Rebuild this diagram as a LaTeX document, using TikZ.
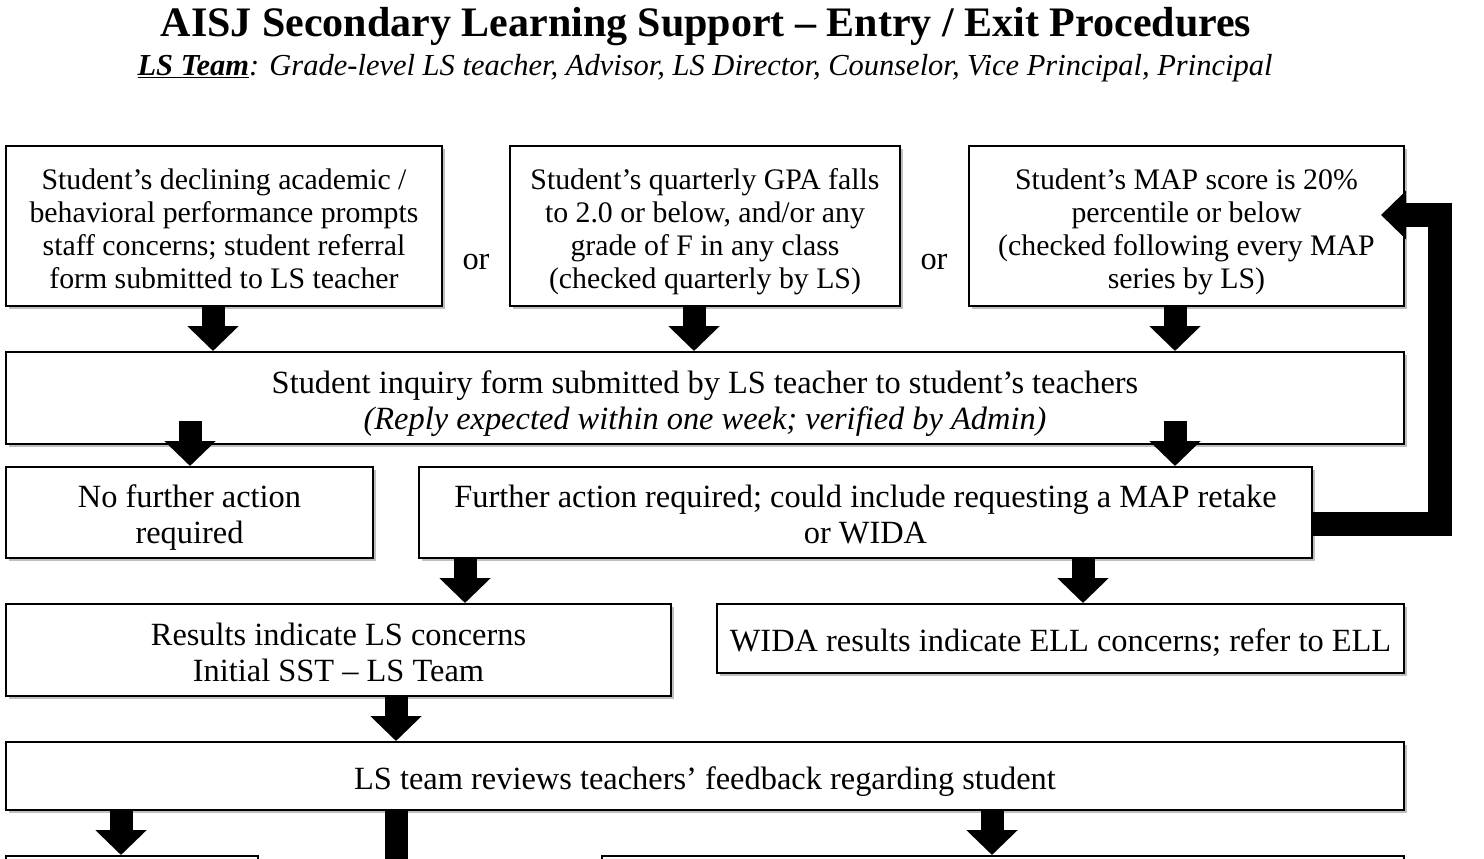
\documentclass[tikz,border=0pt]{standalone}
\usepackage{fontspec}
\setmainfont{Liberation Serif}
\usetikzlibrary{arrows.meta,shadows}

% strut with extra room above the first line, so the text sits a little low
\newcommand{\topstrut}{\rule[-0.3\baselineskip]{0pt}{\dimexpr\baselineskip+12pt\relax}}

\tikzset{
  box/.style={draw, line width=2pt, fill=white, inner sep=0pt, align=center,
    drop shadow={shadow xshift=3pt, shadow yshift=-3pt, opacity=0.25, fill=black}},
  smallbox/.style={box, font=\fontsize{29.8}{33}\selectfont},
  bigbox/.style={box, font=\fontsize{32.4}{36}\selectfont},
  bigarrow/.style={line width=23pt, -{Triangle[width=50pt,length=25pt]}},
}

\begin{document}
\begin{tikzpicture}[x=1pt,y=-1pt]
    \useasboundingbox (0,0) rectangle (1484,859);
    \clip (0,0) rectangle (1484,859);
    % heading
    \node[font=\fontsize{42}{46}\selectfont\bfseries] (title) at (706,27) {AISJ Secondary Learning Support – Entry / Exit Procedures};
    \node[font=\fontsize{30.5}{34}\selectfont\itshape] (team) at (705,68) {\underline{\bfseries LS Team}: Grade-level LS teacher, Advisor, LS Director, Counselor, Vice Principal, Principal};
    % entry conditions
    \node[smallbox,minimum width=436pt,minimum height=160pt] (a1) at (224,226) {\topstrut Student’s declining academic /\\ behavioral performance prompts\\ staff concerns; student referral\\ form submitted to LS teacher\strut};
    \node[smallbox,minimum width=390pt,minimum height=160pt] (a2) at (705,226) {\topstrut Student’s quarterly GPA falls\\ to 2.0 or below, and/or any\\ grade of F in any class\\ (checked quarterly by LS)\strut};
    \node[smallbox,minimum width=435pt,minimum height=160pt] (a3) at (1186.5,226) {\topstrut Student’s MAP score is 20\%\\ percentile or below\\ (checked following every MAP\\ series by LS)\strut};
    \node[font=\fontsize{32.4}{36}\selectfont] (or1) at (476,262) {or};
    \node[font=\fontsize{32.4}{36}\selectfont] (or2) at (934,262) {or};
    % inquiry
    \node[bigbox,minimum width=1398pt,minimum height=92pt] (b) at (705,398) {\topstrut Student inquiry form submitted by LS teacher to student’s teachers\\ \itshape (Reply expected within one week; verified by Admin)\strut};
    \node[bigbox,minimum width=367pt,minimum height=91pt] (c1) at (189.5,512.5) {\topstrut No further action\\ required\strut};
    \node[bigbox,minimum width=893pt,minimum height=91pt] (c2) at (865.5,512.5) {\topstrut Further action required; could include requesting a MAP retake\\ or WIDA\strut};
    \node[bigbox,minimum width=665pt,minimum height=92pt] (d1) at (338.5,650) {\topstrut Results indicate LS concerns\\ Initial SST – LS Team\strut};
    \node[bigbox,minimum width=687pt,minimum height=69pt] (d2) at (1060.5,638.5) {\topstrut WIDA results indicate ELL concerns; refer to ELL\strut};
    \node[bigbox,minimum width=1398pt,minimum height=68pt] (e) at (705,776) {\topstrut LS team reviews teachers’ feedback regarding student\strut};
    % next row, cut off by the page
    \node[box,minimum width=252pt,minimum height=94pt] (f1) at (132,903) {};
    \node[box,minimum width=802pt,minimum height=94pt] (f2) at (1003,903) {};
    % arrows
    \draw[bigarrow] (a1.south -| 213,0) -- (b.north -| 213,0);
    \draw[bigarrow] (a2.south -| 694,0) -- (b.north -| 694,0);
    \draw[bigarrow] (a3.south -| 1175,0) -- (b.north -| 1175,0);
    \draw[bigarrow] ([yshift=24pt]b.south -| 190,0) -- (c1.north -| 190,0);
    \draw[bigarrow] ([yshift=24pt]b.south -| 1175,0) -- (c2.north -| 1175,0);
    \draw[bigarrow] (c2.south -| 465,0) -- (d1.north -| 465,0);
    \draw[bigarrow] (c2.south -| 1083,0) -- (d2.north -| 1083,0);
    \draw[bigarrow] (d1.south -| 396,0) -- (e.north -| 396,0);
    \draw[bigarrow] (e.south -| 121,0) -- (f1.north -| 121,0);
    \draw[bigarrow] (e.south -| 396,0) -- (396,960);
    \draw[bigarrow] (e.south -| 992,0) -- (f2.north -| 992,0);
    % loop back to the MAP box
    \draw[line width=24pt, line join=miter, -{Triangle[width=47pt,length=25pt]}]
      ([yshift=-11pt]c2.east) -| ([xshift=34.5pt,yshift=11pt]a3.east) -- ([xshift=-24pt,yshift=11pt]a3.east);
\end{tikzpicture}
\end{document}
